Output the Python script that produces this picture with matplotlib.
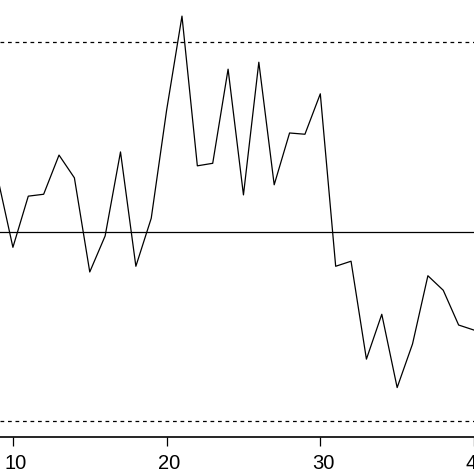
import numpy as np
import matplotlib
matplotlib.use('Agg')
import matplotlib.pyplot as plt
import matplotlib.transforms as mtrans

plt.rcParams['font.family'] = ['Liberation Sans', 'DejaVu Sans']

# sample number and standardized statistic
amostra = np.arange(9, 41)
valores = [0.86, -0.25, 0.56, 0.59, 1.21, 0.85, -0.64, -0.07, 1.26, -0.55,
           0.21, 1.92, 3.41, 1.04, 1.08, 2.57, 0.58, 2.68, 0.74, 1.56,
           1.54, 2.18, -0.55, -0.47, -2.02, -1.31, -2.47, -1.78, -0.70, -0.93,
           -1.48, -1.56]
centro = 0.0
lsc = 3.0   # limite superior de controle
lic = -3.0  # limite inferior de controle
ticks_x = [10, 20, 30, 40]

fig = plt.figure(figsize=(4.74, 4.74), dpi=100)
ax = fig.add_axes([0, 0.078, 1, 0.922])

ax.plot(amostra, valores, color='black', linewidth=0.9)
ax.axhline(centro, color='black', linewidth=0.9)
ax.axhline(lsc, color='black', linewidth=0.9, linestyle=(0, (3, 3)))
ax.axhline(lic, color='black', linewidth=0.9, linestyle=(0, (3, 3)))

ax.set_xlim(9.16, 39.64)
ax.set_ylim(-3.253, 3.665)

for s in ['top', 'left', 'right']:
    ax.spines[s].set_visible(False)
ax.spines['bottom'].set_linewidth(1.2)

ax.set_xticks(ticks_x)
ax.set_xticklabels([])
ax.set_yticks([])
ax.tick_params(axis='x', direction='out', length=6.5, width=0.9)

# R puts the labels a touch right of the tick
desloc = mtrans.ScaledTranslation(3 / 100, -17 / 100, fig.dpi_scale_trans)
trans = ax.get_xaxis_transform() + desloc
for t in ticks_x:
    ax.text(t, 0, str(t), transform=trans, ha='center', va='top',
            fontsize=14.5, clip_on=False)

fig.savefig('out.png', dpi=100)
